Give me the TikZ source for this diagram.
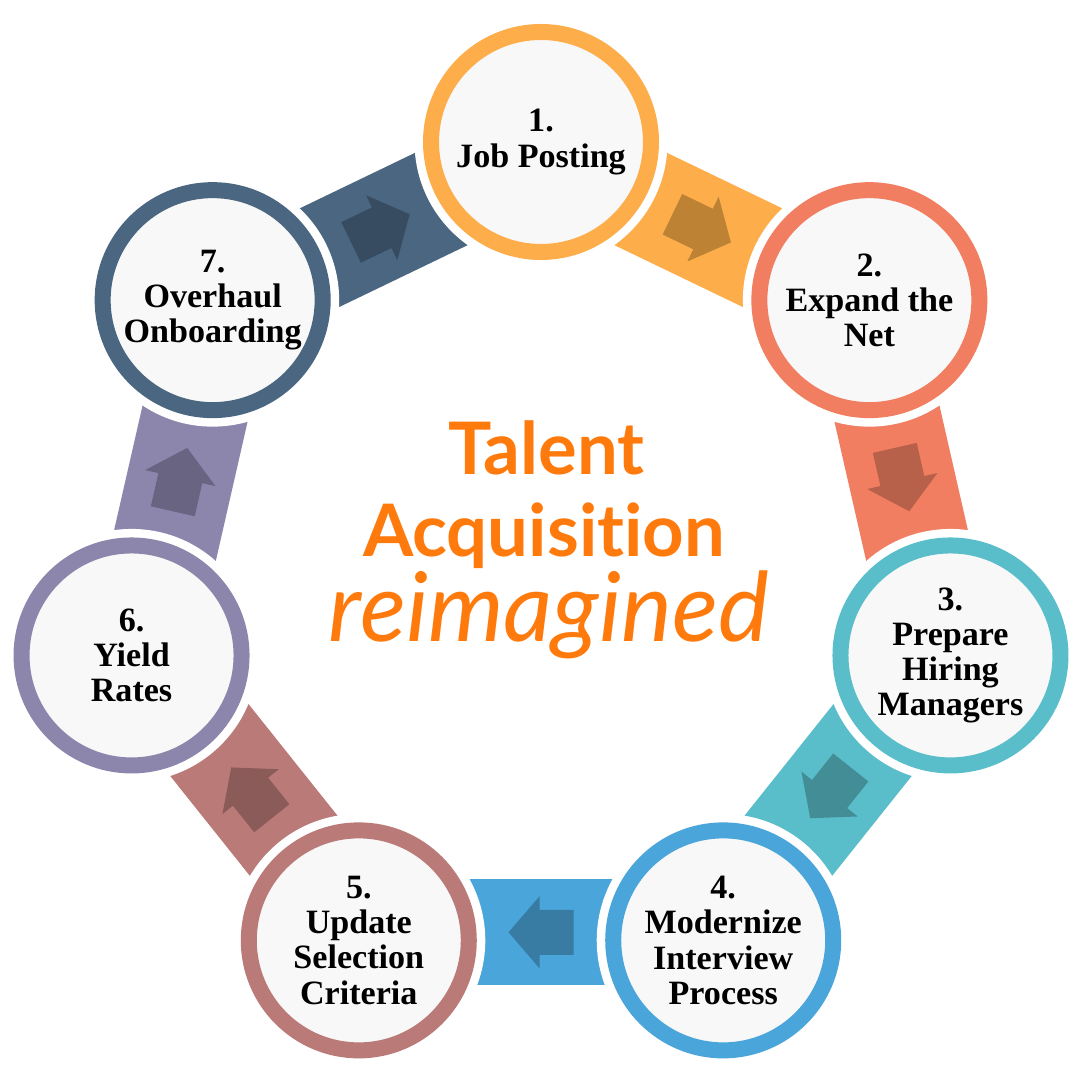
\documentclass[tikz,border=0pt]{standalone}
\usepackage{fontspec}
\usepackage{graphicx}
\setmainfont{Liberation Serif}
\newfontfamily\latof{Lato}[Ligatures=NoCommon]
\usetikzlibrary{calc}
\definecolor{ring1}{HTML}{FDAE4B}\definecolor{arr1}{HTML}{BE8235}
\definecolor{ring2}{HTML}{F27E62}\definecolor{arr2}{HTML}{B7604A}
\definecolor{ring3}{HTML}{59BEC9}\definecolor{arr3}{HTML}{438E96}
\definecolor{ring4}{HTML}{4AA5DA}\definecolor{arr4}{HTML}{387BA3}
\definecolor{ring5}{HTML}{BA7A77}\definecolor{arr5}{HTML}{8B5B59}
\definecolor{ring6}{HTML}{8C86AD}\definecolor{arr6}{HTML}{696482}
\definecolor{ring7}{HTML}{4A6680}\definecolor{arr7}{HTML}{374C60}
\definecolor{titleorange}{HTML}{FF7A0C}
\definecolor{innerfill}{HTML}{F8F8F8}
\tikzset{
  stepcircle/.style={circle, minimum size=2.20cm, inner sep=0pt, outer sep=0pt,
    line width=0.16cm, fill=innerfill, align=center,
    font=\fontsize{9.7}{10}\selectfont\bfseries},
  bandline/.style={line width=1.06cm},
  titletext/.style={font=\latof\bfseries\fontsize{20.6}{20.6}\selectfont, text=titleorange, anchor=base, inner sep=0pt}
}
\begin{document}
\begin{tikzpicture}[x=1cm,y=1cm]
\useasboundingbox (0,0) rectangle (10.8,10.8);
\fill[white] (0,0) rectangle (10.8,10.8);
\coordinate (O) at (5.41,5.18);
\foreach \i in {1,...,7}{
  \pgfmathsetmacro\ang{90-(\i-1)*360/7}
  \coordinate (p\i) at ($(O)+(\ang:4.20)$);
  \coordinate (b\i) at ($(O)+(\ang:4.11)$);
}
% bands
\foreach \i/\j in {1/2,2/3,3/4,4/5,5/6,6/7,7/1}{
  \draw[bandline, draw=ring\i] (b\i) -- (b\j);
  \pgfmathsetmacro\rot{90-(\i-1)*360/7-115.714}
  \begin{scope}[shift={($(b\i)!0.5!(b\j)$)}, rotate=\rot]
    \fill[arr\i] (-0.325,-0.225) -- (0.015,-0.225) -- (0.015,-0.36) -- (0.325,0)
      -- (0.015,0.36) -- (0.015,0.225) -- (-0.325,0.225) -- cycle;
  \end{scope}
}
% white halos
\foreach \i in {1,...,7}{ \fill[white] (p\i) circle (1.265); }
% circles
\node[stepcircle, draw=ring1] (c1) at (p1) {1.\\Job Posting};
\node[stepcircle, draw=ring2] (c2) at (p2) {2.\\Expand the\\Net};
\node[stepcircle, draw=ring3] (c3) at (p3) {3.\\Prepare\\Hiring\\Managers};
\node[stepcircle, draw=ring4] (c4) at (p4) {4.\\Modernize\\Interview\\Process};
\node[stepcircle, draw=ring5] (c5) at (p5) {5.\\Update\\Selection\\Criteria};
\node[stepcircle, draw=ring6] (c6) at (p6) {6.\\Yield\\Rates};
\node[stepcircle, draw=ring7] (c7) at (p7) {7.\\Overhaul\\Onboarding};
% title
\node[titletext] (t1) at (5.465,6.05) {Talent};
\node[titletext] (t2) at (5.44,5.23) {Acquisi\mbox{t}\mbox{i}on};
\node[anchor=base, inner sep=0pt, text=titleorange] (t3) at (5.49,4.38) {\resizebox{4.4cm}{!}{\latof\itshape reimagined}};
\end{tikzpicture}
\end{document}
